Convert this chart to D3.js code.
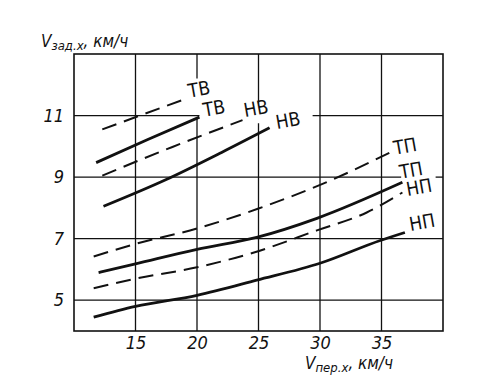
<!DOCTYPE html>
<html>
<head>
<meta charset="utf-8">
<script src="https://cdn.jsdelivr.net/npm/d3@7"></script>
<style>
    body { margin: 0; background: #fff; }
    text { font-family: "Liberation Sans Narrow", "DejaVu Sans Condensed", "Liberation Sans", sans-serif; font-style: italic; fill: #111; }
</style>
</head>
<body>
<div id="chart"></div>
<script>

// x ticks / y ticks (km/h)
var xTicks = [15, 20, 25, 30, 35]
var yTicks = [5, 7, 9, 11]

// grid segments, broken where the curve labels sit
var vGrid = [[15, 4, 13], [20, 4, 10.95], [20, 12.2, 13], [25, 4, 10.75], [25, 11.4, 13], [30, 4, 13], [35, 4, 13]]
var hGrid = [[5, 10, 40], [7, 10, 40], [9, 10, 36.6], [9, 39.4, 40], [11, 10, 20.2], [11, 29.4, 40]]

// curves: [v_per.x, v_zad.x]
var tvDash = [[12.3, 10.55], [15.5, 11.02], [18.8, 11.5]]
var tvSolid = [[11.8, 9.47], [16, 10.22], [20.2, 10.95]]
var nvDash = [[12.3, 9.05], [18, 9.98], [23.7, 10.85]]
var nvSolid = [[12.4, 8.05], [17.5, 8.92], [22, 9.8], [25.9, 10.6]]
var tpDash = [[11.6, 6.42], [15, 6.83], [20, 7.33], [25, 7.98], [30.5, 8.83], [35.7, 9.8]]
var tpSolid = [[12, 5.9], [15, 6.18], [20, 6.65], [24.85, 7.04], [29.75, 7.66], [36.7, 8.83]]
var npDash = [[11.6, 5.39], [15, 5.7], [20, 6.07], [24.7, 6.56], [29.75, 7.27], [33.8, 7.85], [36.7, 8.5]]
var npSolid = [[11.6, 4.45], [15, 4.8], [20, 5.16], [24.85, 5.65], [30, 6.2], [34.9, 6.94], [36.9, 7.2]]

var curves = [
    { pts: tvDash, dash: true, label: "ТВ", at: [199, 89] },
    { pts: tvSolid, dash: false, label: "ТВ", at: [214, 108] },
    { pts: nvDash, dash: true, label: "НВ", at: [256, 108] },
    { pts: nvSolid, dash: false, label: "НВ", at: [288, 120] },
    { pts: tpDash, dash: true, label: "ТП", at: [405, 146] },
    { pts: tpSolid, dash: false, label: "ТП", at: [411, 170] },
    { pts: npDash, dash: true, label: "НП", at: [419, 187] },
    { pts: npSolid, dash: false, label: "НП", at: [422, 222] }
]

var margin = { top: 54, right: 57, bottom: 58, left: 74 },
    width = 500 - margin.left - margin.right,
    height = 389 - margin.top - margin.bottom;

var root = d3.select("#chart")
    .append("svg")
    .attr("width", 500)
    .attr("height", 389)

var svg = root.append("g")
    .attr("transform", "translate(" + margin.left + "," + margin.top + ")")

var x = d3.scaleLinear().domain([10, 40]).range([0, width])
var y = d3.scaleLinear().domain([4, 13]).range([height, 0])

// frame
svg.append("rect")
    .attr("width", width)
    .attr("height", height)
    .style("fill", "none")
    .style("stroke", "#111")
    .style("stroke-width", 1.6)

// grid
svg.selectAll(".vg")
    .data(vGrid)
    .enter()
    .append("line")
    .attr("x1", function (d) { return x(d[0]) })
    .attr("x2", function (d) { return x(d[0]) })
    .attr("y1", function (d) { return y(d[1]) })
    .attr("y2", function (d) { return y(d[2]) })
    .style("stroke", "#111")
    .style("stroke-width", 1.3)

svg.selectAll(".hg")
    .data(hGrid)
    .enter()
    .append("line")
    .attr("y1", function (d) { return y(d[0]) })
    .attr("y2", function (d) { return y(d[0]) })
    .attr("x1", function (d) { return x(d[1]) })
    .attr("x2", function (d) { return x(d[2]) })
    .style("stroke", "#111")
    .style("stroke-width", 1.3)

// axes, only the numbers
var xAxis = svg.append("g")
    .attr("transform", "translate(0," + height + ")")
    .call(d3.axisBottom(x).tickValues(xTicks).tickSize(0).tickPadding(5))
var yAxis = svg.append("g")
    .call(d3.axisLeft(y).tickValues(yTicks).tickSize(0).tickPadding(10))

svg.selectAll(".domain").remove()
svg.selectAll(".tick text")
    .style("font-size", "18px")
    .style("font-family", null)
    .attr("fill", "#111")

// curves
var line = d3.line()
    .x(function (d) { return x(d[0]) })
    .y(function (d) { return y(d[1]) })
    .curve(d3.curveMonotoneX)

svg.selectAll(".curve")
    .data(curves)
    .enter()
    .append("path")
    .attr("d", function (d) { return line(d.pts) })
    .style("fill", "none")
    .style("stroke", "#111")
    .style("stroke-width", function (d) { return d.dash ? 2 : 2.8 })
    .style("stroke-dasharray", function (d) { return d.dash ? "15,8" : null })

// curve labels (page coords)
root.selectAll(".lab")
    .data(curves)
    .enter()
    .append("text")
    .attr("transform", function (d) { return "translate(" + d.at[0] + "," + d.at[1] + ") rotate(-10)" })
    .attr("text-anchor", "middle")
    .attr("dy", "0.36em")
    .style("font-style", "normal")
    .style("font-size", "19px")
    .text(function (d) { return d.label })

// axis titles
var yt = root.append("text")
    .attr("x", 41)
    .attr("y", 47)
    .style("font-size", "17px")
yt.append("tspan").text("V")
yt.append("tspan").attr("dy", 3).style("font-size", "13px").text("зад.x")
yt.append("tspan").attr("dy", -3).text(", км/ч")

var xt = root.append("text")
    .attr("x", 305)
    .attr("y", 369)
    .style("font-size", "17px")
xt.append("tspan").text("V")
xt.append("tspan").attr("dy", 3).style("font-size", "13px").text("пер.x")
xt.append("tspan").attr("dy", -3).text(", км/ч")

</script>
</body>
</html>
